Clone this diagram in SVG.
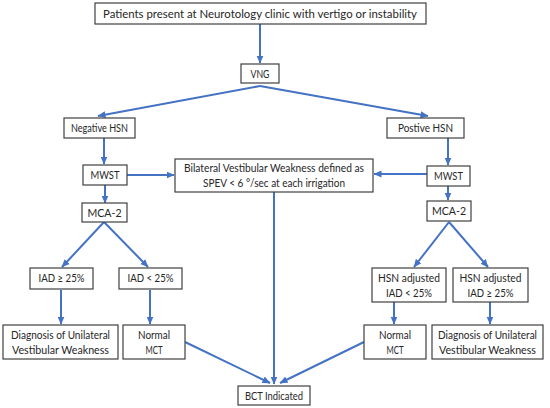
<svg xmlns="http://www.w3.org/2000/svg" width="550" height="408" viewBox="0 0 550 408">
<style>
.b{fill:#fff;stroke:#404040;stroke-width:1.2}
.t{font-family:Lato,"Liberation Sans",sans-serif;font-size:12px;fill:#262626;text-anchor:middle}
.s{font-size:11px}
.c{stroke:#4472C4;stroke-width:2;fill:none;marker-end:url(#a)}
</style>
<defs>
<marker id="a" markerUnits="userSpaceOnUse" markerWidth="8" markerHeight="8" viewBox="0 0 8 8" refX="7.5" refY="4" orient="auto">
<path d="M0,0.5 L8,4 L0,7.5 Z" fill="#4472C4"/>
</marker>
</defs>
<rect width="550" height="408" fill="#fff"/>
<g id="connectors">
<line class="c" x1="260" y1="24" x2="260" y2="63"/>
<line class="c" x1="260" y1="86" x2="98" y2="116"/>
<line class="c" x1="260" y1="86" x2="428" y2="116"/>
<line class="c" x1="104" y1="138" x2="104" y2="164"/>
<line class="c" x1="127" y1="175" x2="174" y2="175"/>
<line class="c" x1="448" y1="138" x2="448" y2="165"/>
<line class="c" x1="427" y1="174" x2="374" y2="174"/>
<line class="c" x1="105" y1="185" x2="105" y2="203"/>
<line class="c" x1="448" y1="186" x2="448" y2="200"/>
<line class="c" x1="104" y1="222" x2="62" y2="267"/>
<line class="c" x1="104" y1="222" x2="148" y2="267"/>
<line class="c" x1="449" y1="222" x2="414" y2="267"/>
<line class="c" x1="449" y1="222" x2="488" y2="267"/>
<line class="c" x1="61" y1="290" x2="61" y2="324"/>
<line class="c" x1="150" y1="290" x2="150" y2="324"/>
<line class="c" x1="394" y1="302" x2="394" y2="324"/>
<line class="c" x1="490" y1="302" x2="490" y2="324"/>
<line class="c" x1="274" y1="192" x2="274" y2="384"/>
<line class="c" x1="185" y1="342" x2="270" y2="383"/>
<line class="c" x1="364" y1="342" x2="280" y2="383"/>
</g>
<g id="top"><rect class="b" x="95" y="3" width="331" height="21"/><text class="t" x="260" y="18" textLength="314" lengthAdjust="spacingAndGlyphs">Patients present at Neurotology clinic with vertigo or instability</text></g>
<g id="vng"><rect class="b" x="241" y="64" width="38" height="19"/><text class="t" x="260" y="78" textLength="19" lengthAdjust="spacingAndGlyphs">VNG</text></g>
<g id="neg-hsn"><rect class="b" x="64" y="118" width="71" height="20"/><text class="t" x="99.5" y="132" textLength="57" lengthAdjust="spacingAndGlyphs">Negative HSN</text></g>
<g id="pos-hsn"><rect class="b" x="387" y="118" width="77" height="20"/><text class="t" x="425.5" y="132" textLength="55" lengthAdjust="spacingAndGlyphs">Postive HSN</text></g>
<g id="mwst-l"><rect class="b" x="83" y="165" width="44" height="20"/><text class="t" x="105" y="179" textLength="29" lengthAdjust="spacingAndGlyphs">MWST</text></g>
<g id="mwst-r"><rect class="b" x="427" y="166" width="43" height="20"/><text class="t" x="448.5" y="180" textLength="29" lengthAdjust="spacingAndGlyphs">MWST</text></g>
<g id="mca-l"><rect class="b" x="82" y="203" width="45" height="19"/><text class="t" x="104.5" y="217" textLength="34" lengthAdjust="spacingAndGlyphs">MCA-2</text></g>
<g id="mca-r"><rect class="b" x="427" y="201" width="44" height="20"/><text class="t" x="449" y="215" textLength="34" lengthAdjust="spacingAndGlyphs">MCA-2</text></g>
<g id="bilateral"><rect class="b" x="175" y="159" width="198" height="33"/><text class="t" x="274" y="172" textLength="180" lengthAdjust="spacingAndGlyphs">Bilateral Vestibular Weakness defined as</text><text class="t" x="274" y="187" textLength="142" lengthAdjust="spacingAndGlyphs">SPEV &lt; 6 °/sec at each irrigation</text></g>
<g id="iad-ge-l"><rect class="b" x="30" y="268" width="63" height="21"/><text class="t" x="61.5" y="282" textLength="46" lengthAdjust="spacingAndGlyphs">IAD ≥ 25%</text></g>
<g id="iad-lt-l"><rect class="b" x="119" y="268" width="63" height="21"/><text class="t" x="150.5" y="282" textLength="46" lengthAdjust="spacingAndGlyphs">IAD &lt; 25%</text></g>
<g id="hsn-lt"><rect class="b" x="372" y="268" width="74" height="34"/><text class="t" x="409" y="282" textLength="62" lengthAdjust="spacingAndGlyphs">HSN adjusted</text><text class="t" x="409" y="297" textLength="46" lengthAdjust="spacingAndGlyphs">IAD &lt; 25%</text></g>
<g id="hsn-ge"><rect class="b" x="453" y="268" width="75" height="34"/><text class="t" x="490.5" y="282" textLength="62" lengthAdjust="spacingAndGlyphs">HSN adjusted</text><text class="t" x="490.5" y="297" textLength="46" lengthAdjust="spacingAndGlyphs">IAD ≥ 25%</text></g>
<g id="diag-l"><rect class="b" x="3" y="325" width="115" height="34"/><text class="t s" x="60.5" y="339" textLength="99" lengthAdjust="spacingAndGlyphs">Diagnosis of Unilateral</text><text class="t s" x="60.5" y="354" textLength="97" lengthAdjust="spacingAndGlyphs">Vestibular Weakness</text></g>
<g id="normal-l"><rect class="b" x="123" y="325" width="62" height="34"/><text class="t" x="154" y="339" textLength="32" lengthAdjust="spacingAndGlyphs">Normal</text><text class="t" x="154" y="354" textLength="17" lengthAdjust="spacingAndGlyphs">MCT</text></g>
<g id="normal-r"><rect class="b" x="364" y="325" width="62" height="34"/><text class="t" x="395" y="339" textLength="32" lengthAdjust="spacingAndGlyphs">Normal</text><text class="t" x="395" y="354" textLength="17" lengthAdjust="spacingAndGlyphs">MCT</text></g>
<g id="diag-r"><rect class="b" x="432" y="325" width="111" height="34"/><text class="t s" x="487.5" y="339" textLength="99" lengthAdjust="spacingAndGlyphs">Diagnosis of Unilateral</text><text class="t s" x="487.5" y="354" textLength="97" lengthAdjust="spacingAndGlyphs">Vestibular Weakness</text></g>
<g id="bct"><rect class="b" x="238" y="386" width="72" height="19"/><text class="t" x="274" y="400" textLength="58" lengthAdjust="spacingAndGlyphs">BCT Indicated</text></g>
</svg>
